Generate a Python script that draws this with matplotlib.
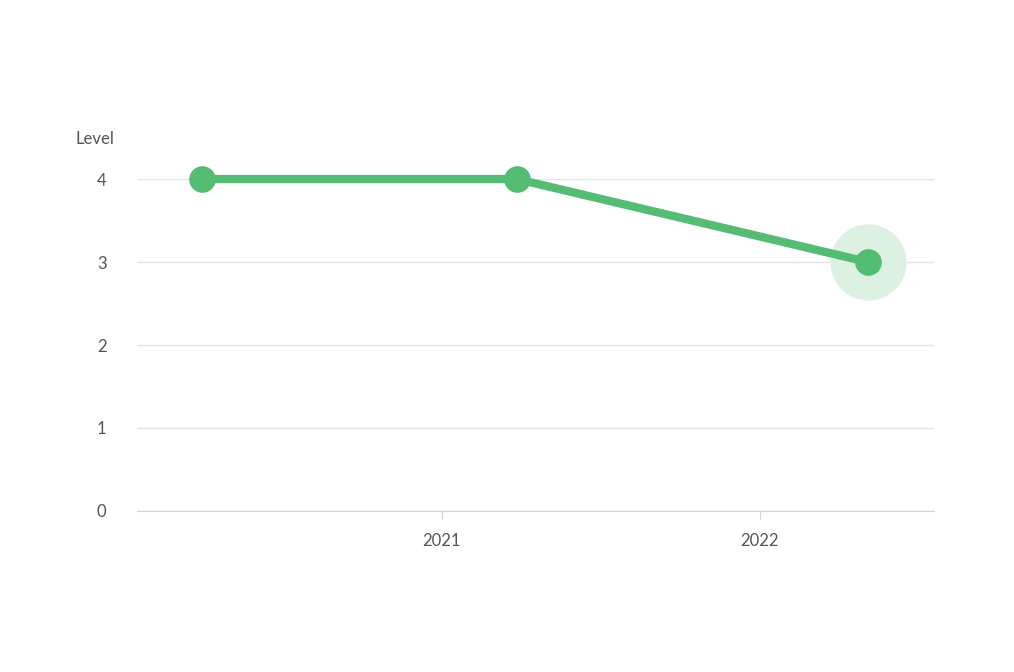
import datetime as dt
import matplotlib
matplotlib.use("Agg")
import matplotlib.pyplot as plt
import matplotlib.dates as mdates

plt.rcParams['font.family'] = ['Lato', 'DejaVu Sans']

dates = [dt.date(2020, 4, 1), dt.date(2021, 3, 28), dt.date(2022, 5, 5)]
levels = [4, 4, 3]
yticks = [0, 1, 2, 3, 4]

GREEN = "#55BC74"
fig = plt.figure(figsize=(10.14, 6.72), dpi=100)
ax = fig.add_axes([0.1351, 0.2396, 0.921 - 0.1351, 0.7336 - 0.2396])

ax.plot(dates, levels, color=GREEN, lw=6, solid_capstyle="round", zorder=3, clip_on=False)
ax.scatter(dates[-1:], levels[-1:], s=2900, color="#DDF1E3", zorder=2, clip_on=False)
ax.scatter(dates, levels, s=330, color=GREEN, zorder=4, clip_on=False)

ax.set_xlim(dt.date(2020, 1, 17), dt.date(2022, 7, 20))
ax.set_ylim(0, 4)
ax.set_yticks(yticks)
ax.xaxis.set_major_locator(mdates.YearLocator())
ax.xaxis.set_major_formatter(mdates.DateFormatter("%Y"))

ax.grid(axis="y", color="#E3E3E3", lw=1)
for s in ["top", "right", "left"]:
    ax.spines[s].set_visible(False)
ax.spines["bottom"].set_color("#C9D3F0")
ax.tick_params(axis="y", length=0, pad=22, labelsize=12, labelcolor="#555555")
ax.tick_params(axis="x", length=6, color="#C9D3F0", pad=10, labelsize=12, labelcolor="#555555")
ax.text(-0.077, 1.105, "Level", transform=ax.transAxes, fontsize=12, color="#555555", ha="left")

fig.savefig("out.png", dpi=100)
